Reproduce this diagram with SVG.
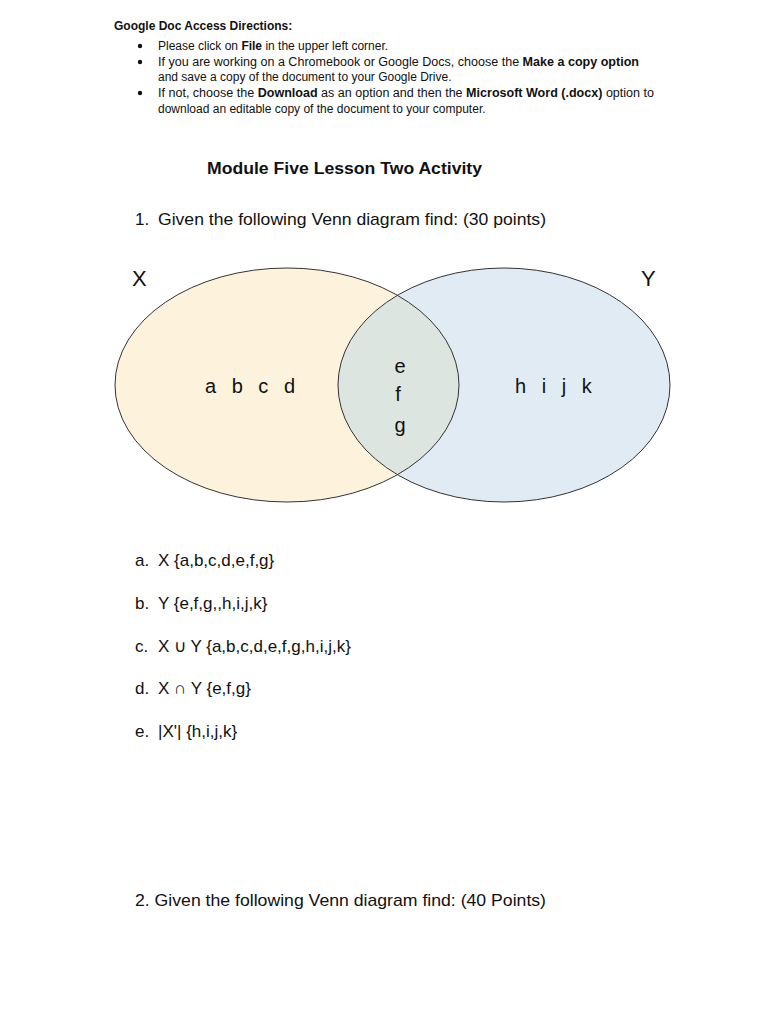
<svg xmlns="http://www.w3.org/2000/svg" width="768" height="1024" viewBox="0 0 768 1024">
<style>
.s{font-family:"Liberation Sans",Arial,sans-serif;fill:#111}
.h{font-size:12px}
.b{font-weight:bold}
.m{font-size:17px}
.v{font-size:22px}
.e{stroke:#333;stroke-width:1;fill:none}
</style>
<defs><clipPath id="cl"><ellipse cx="287" cy="385" rx="172" ry="117"/></clipPath></defs>
<rect width="768" height="1024" fill="#fff"/>
<g id="header" class="s h">
<text x="114" y="30" class="b">Google Doc Access Directions:</text>
<circle cx="140" cy="46" r="2.2"/><circle cx="140" cy="62" r="2.2"/><circle cx="140" cy="93" r="2.2"/>
<text x="158" y="50">Please click on <tspan class="b">File</tspan> in the upper left corner.</text>
<text x="158" y="66" textLength="481" lengthAdjust="spacingAndGlyphs">If you are working on a Chromebook or Google Docs, choose the <tspan class="b">Make a copy option</tspan></text>
<text x="158" y="81">and save a copy of the document to your Google Drive.</text>
<text x="158" y="97" textLength="496" lengthAdjust="spacingAndGlyphs">If not, choose the <tspan class="b">Download</tspan> as an option and then the <tspan class="b">Microsoft Word (.docx)</tspan> option to</text>
<text x="158" y="113">download an editable copy of the document to your computer.</text>
</g>
<g id="title" class="s"><text x="207" y="174" font-size="16" class="b" textLength="275" lengthAdjust="spacingAndGlyphs">Module Five Lesson Two Activity</text></g>
<g id="q1" class="s m"><text x="135" y="225">1.</text><text x="158" y="225" textLength="388" lengthAdjust="spacingAndGlyphs">Given the following Venn diagram find: (30 points)</text></g>
<g id="venn">
<ellipse id="X" cx="287" cy="385" rx="172" ry="117" fill="#fdf3dc"/>
<ellipse id="Y" cx="504" cy="385" rx="166" ry="117" fill="#e1ebf4"/>
<ellipse cx="504" cy="385" rx="166" ry="117" fill="#dce5df" clip-path="url(#cl)"/>
<ellipse class="e" cx="287" cy="385" rx="172" ry="117"/>
<ellipse class="e" cx="504" cy="385" rx="166" ry="117" stroke="#888"/>
<g class="s v">
<text x="132" y="286">X</text>
<text x="641" y="286">Y</text>
<text x="205" y="393" font-size="20" letter-spacing="5">a b c d</text>
<text x="515" y="393" font-size="20" letter-spacing="5">h i j k</text>
<text x="400" y="373" font-size="20" text-anchor="middle">e</text>
<text x="398" y="401" font-size="20" text-anchor="middle">f</text>
<text x="400" y="432" font-size="20" text-anchor="middle">g</text>
</g>
</g>
<g id="answers" class="s m">
<text x="135" y="566">a.</text><text x="158" y="566">X {a,b,c,d,e,f,g}</text>
<text x="135" y="609">b.</text><text x="158" y="609">Y {e,f,g,,h,i,j,k}</text>
<text x="135" y="652">c.</text><text x="158" y="652">X ∪ Y {a,b,c,d,e,f,g,h,i,j,k}</text>
<text x="135" y="694">d.</text><text x="158" y="694">X ∩ Y {e,f,g}</text>
<text x="135" y="737">e.</text><text x="158" y="737">|X'| {h,i,j,k}</text>
</g>
<g id="q2" class="s m"><text x="135" y="906" textLength="411" lengthAdjust="spacingAndGlyphs">2. Given the following Venn diagram find: (40 Points)</text></g>
</svg>
